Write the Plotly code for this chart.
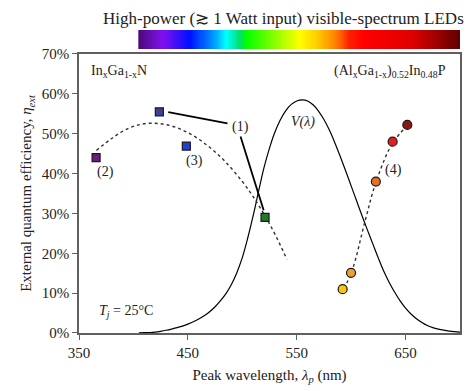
import plotly.graph_objects as go

# ---------------- data ----------------
# InGaN LEDs (squares)
ingan_nm = [365.7, 423.8, 448.6, 520.9]
ingan_eqe = [44.0, 55.5, 46.9, 29.0]
ingan_colors = ["#6b1d80", "#3b3f9e", "#1f3fd8", "#1f7a2a"]

# AlGaInP LEDs (circles)
algainp_nm = [592.2, 599.9, 622.7, 638.1, 651.6]
algainp_eqe = [11.0, 15.1, 38.0, 48.0, 52.2]
algainp_colors = ["#f5c518", "#f0a030", "#e4702c", "#e41e1e", "#8a1515"]

# dotted trend lines
ingan_trend_nm = [366, 380, 395, 410, 425, 440, 455, 470, 485, 500, 510, 520, 530, 541]
ingan_trend_eqe = [45.8, 48.8, 51.3, 52.5, 52.5, 51.5, 49.5, 46.6, 42.8, 38.0, 34.2, 29.8, 24.8, 18.5]
algainp_trend_nm = [591, 601, 613, 623, 638, 652.5]
algainp_trend_eqe = [9.8, 15.8, 28.3, 38.0, 47.6, 52.2]

# eye sensitivity V(lambda), scaled to peak 58.5 %
v_nm = [405, 410, 415, 420, 425, 430, 435, 440, 445, 450, 455, 460, 465, 470, 475, 480,
        485, 490, 495, 500, 505, 510, 515, 520, 525, 530, 535, 540, 545, 550, 555, 560,
        565, 570, 575, 580, 585, 590, 595, 600, 605, 610, 615, 620, 625, 630, 635, 640,
        645, 650, 655, 660, 665, 670, 675, 680, 685, 690, 695, 700]
v_pct = [0.04, 0.07, 0.13, 0.23, 0.43, 0.68, 0.99, 1.35, 1.74, 2.22, 2.81, 3.51, 4.32, 5.32,
         6.59, 8.13, 9.90, 12.17, 15.13, 18.90, 23.83, 29.43, 35.58, 41.54, 46.40, 50.43,
         53.52, 55.81, 57.35, 58.20, 58.50, 58.21, 57.25, 55.69, 53.55, 50.90, 47.75, 44.28,
         40.65, 36.91, 33.16, 29.43, 25.81, 22.29, 18.78, 15.50, 12.69, 10.24, 8.08, 6.26,
         4.77, 3.57, 2.61, 1.87, 1.36, 0.99, 0.70, 0.48, 0.33, 0.24]

# spectrum bar
spectrum_nm = list(range(405, 701))
spectrum_scale = [
    [0.0, "#4d0a7a"], [0.075, "#8010f0"], [0.158, "#0010ff"], [0.23, "#0090ff"],
    [0.272, "#00ffff"], [0.313, "#00e070"], [0.334, "#00ff00"], [0.417, "#80ff00"],
    [0.5, "#ffff00"], [0.552, "#ffd000"], [0.614, "#ff8000"], [0.656, "#ff2000"],
    [0.70, "#ff0000"], [0.85, "#e00000"], [1.0, "#600000"],
]

x_ticks = [350, 450, 550, 650]
y_ticks = [0, 10, 20, 30, 40, 50, 60, 70]
y_tick_labels = ["0%", "10%", "20%", "30%", "40%", "50%", "60%", "70%"]

FONT = "Liberation Serif, Times New Roman, serif"
AX = "#606060"

fig = go.Figure()

fig.add_trace(go.Scatter(x=v_nm, y=v_pct, mode="lines",
                         line=dict(color="black", width=1.2, shape="spline"),
                         showlegend=False, hoverinfo="skip"))
fig.add_trace(go.Scatter(x=ingan_trend_nm, y=ingan_trend_eqe, mode="lines",
                         line=dict(color="#333333", width=1.4, dash="dot", shape="spline"),
                         showlegend=False))
fig.add_trace(go.Scatter(x=algainp_trend_nm, y=algainp_trend_eqe, mode="lines",
                         line=dict(color="#333333", width=1.4, dash="dot", shape="spline"),
                         showlegend=False))
fig.add_trace(go.Scatter(x=ingan_nm, y=ingan_eqe, mode="markers",
                         marker=dict(symbol="square", size=8, color=ingan_colors,
                                     line=dict(color="#1a1a1a", width=1.2)),
                         showlegend=False))
fig.add_trace(go.Scatter(x=algainp_nm, y=algainp_eqe, mode="markers",
                         marker=dict(symbol="circle", size=9, color=algainp_colors,
                                     line=dict(color="#1a1a1a", width=1.2)),
                         showlegend=False))

fig.add_trace(go.Heatmap(x=spectrum_nm, y=[0], z=[spectrum_nm], colorscale=spectrum_scale,
                         zmin=405, zmax=700, showscale=False, hoverinfo="skip",
                         xaxis="x2", yaxis="y2"))

# leader lines for (1)
fig.add_shape(type="line", x0=432, y0=55.4, x1=486.4, y1=52.6, xref="x", yref="y",
              line=dict(color="black", width=1.8))
fig.add_shape(type="line", x0=498.4, y0=49.3, x1=519.6, y1=30.8, xref="x", yref="y",
              line=dict(color="black", width=1.8))

tf = dict(family=FONT, size=14, color="#222222")
ann = [
    dict(x=497.9, y=51.7, text="(1)"),
    dict(x=373.9, y=40.5, text="(2)"),
    dict(x=455.9, y=43.2, text="(3)"),
    dict(x=638.7, y=40.8, text="(4)"),
    dict(x=556, y=53.0, text="<i>V(λ)</i>"),
]
for a in ann:
    fig.add_annotation(x=a["x"], y=a["y"], text=a["text"], showarrow=False, font=tf,
                       xref="x", yref="y")
fig.add_annotation(x=359.2, y=65.5, xanchor="left", text="In<sub>x</sub>Ga<sub>1-x</sub>N",
                   showarrow=False, font=tf, xref="x", yref="y")
fig.add_annotation(x=689, y=65.5, xanchor="right",
                   text="(Al<sub>x</sub>Ga<sub>1-x</sub>)<sub>0.52</sub>In<sub>0.48</sub>P",
                   showarrow=False, font=tf, xref="x", yref="y")
fig.add_annotation(x=366.2, y=5.3, xanchor="left", text="<i>T<sub>j</sub></i> = 25°C",
                   showarrow=False, font=tf, xref="x", yref="y")
fig.add_annotation(x=0.538, y=1.066, xref="paper", yref="paper", yanchor="top",
                   borderpad=0,
                   text="High-power (≳ 1 Watt input) visible-spectrum LEDs",
                   showarrow=False, font=dict(family=FONT, size=17, color="#222222"))

# page body has an 8px default margin, so the figure is sized/offset to compensate
fig.update_layout(
    width=466, height=383,
    margin=dict(l=71, r=14, t=20, b=58),
    paper_bgcolor="white", plot_bgcolor="white",
    font=dict(family=FONT, size=15, color="#222222"),
    xaxis=dict(range=[350, 700], tickvals=x_ticks, ticks="outside", ticklen=5,
               tickcolor=AX, showline=True, linecolor=AX, linewidth=1.5, mirror=True,
               showgrid=False, zeroline=False, anchor="y", automargin=False,
               tickfont=dict(family=FONT, size=15),
               title=dict(text="Peak wavelength, <i>λ<sub>p</sub></i> (nm)",
                          font=dict(family=FONT, size=15), standoff=10)),
    yaxis=dict(range=[0, 70], tickvals=y_ticks, ticktext=y_tick_labels, ticks="outside",
               ticklen=5, tickcolor=AX, showline=True, linecolor=AX, linewidth=1.5,
               mirror=True, showgrid=False, zeroline=False, domain=[0, 0.9148],
               automargin=False, tickfont=dict(family=FONT, size=15),
               title=dict(text="External quantum efficiency, <i>η<sub>ext</sub></i>",
                          font=dict(family=FONT, size=15), standoff=6)),
    xaxis2=dict(range=[350, 700], visible=False, anchor="y2", matches="x"),
    yaxis2=dict(range=[-0.5, 0.5], visible=False, domain=[0.9311, 0.9934], anchor="x2"),
)

fig.write_html("out.html")
